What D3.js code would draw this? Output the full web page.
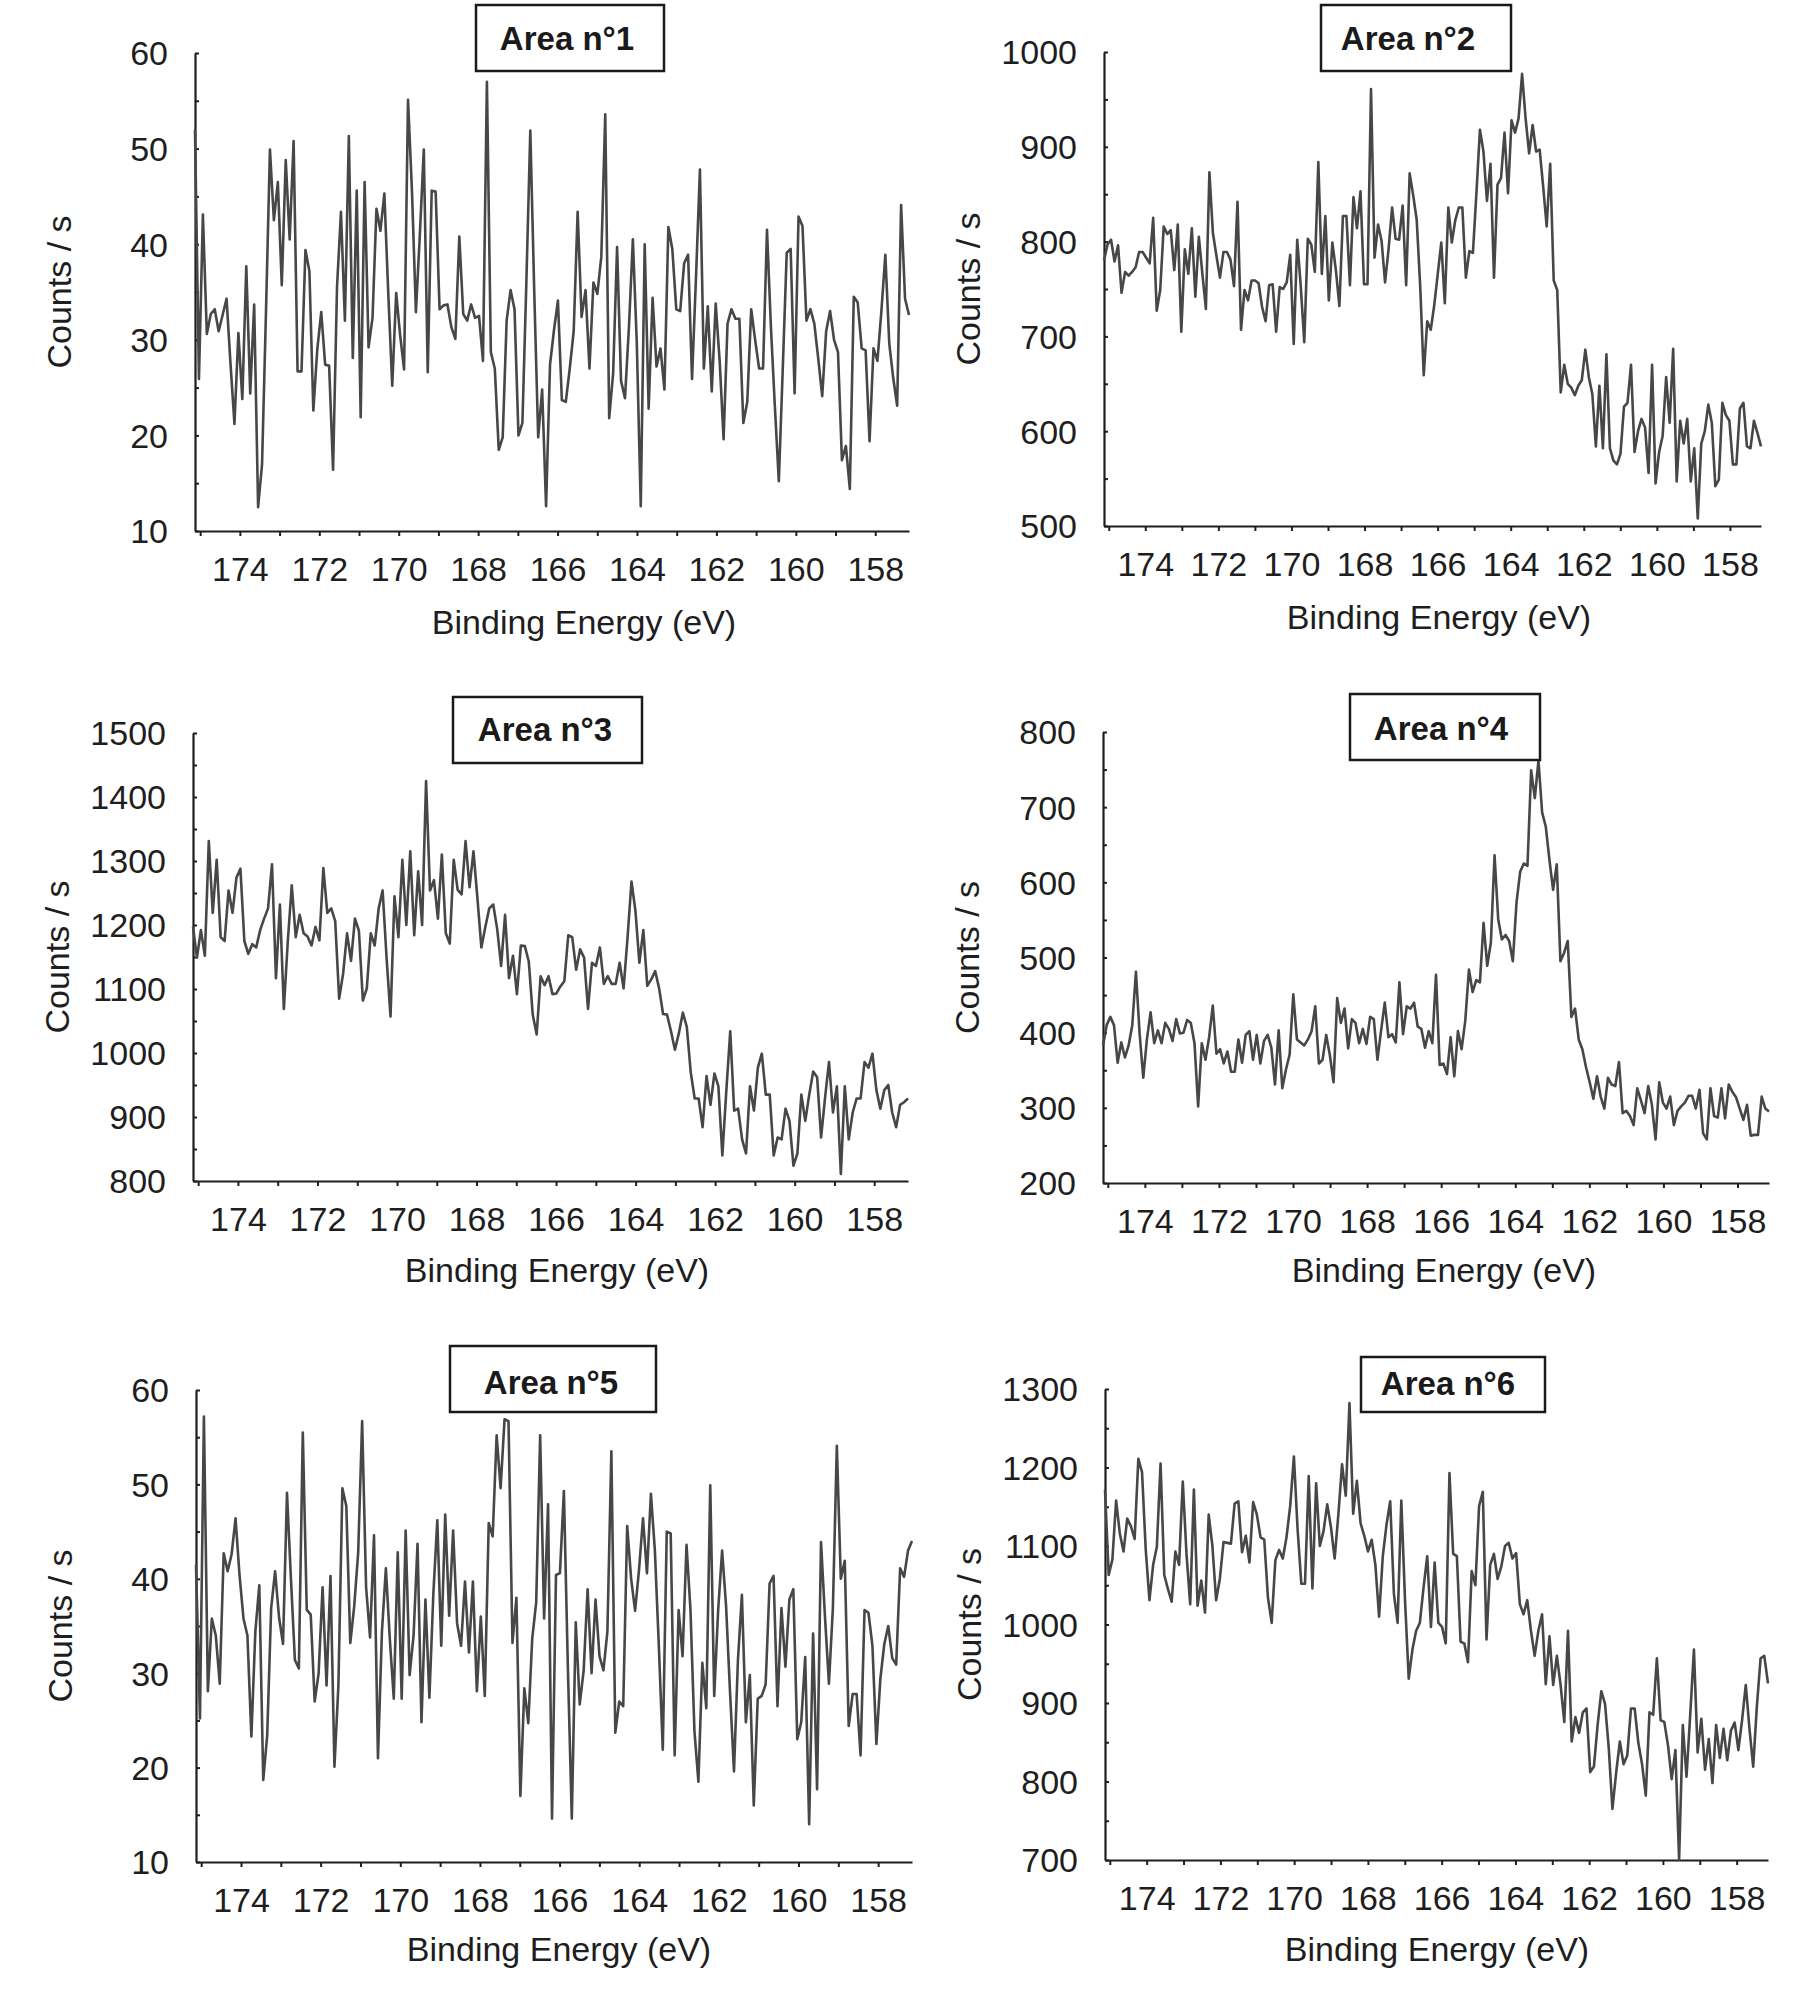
<!DOCTYPE html>
<html>
<head>
<meta charset="utf-8">
<script src="https://cdn.jsdelivr.net/npm/d3@7.9.0/dist/d3.min.js"></script>
<style>
  body { margin: 0; background: #fff; }
  svg { display: block; font-family: "Liberation Sans", Arial, sans-serif; }
</style>
</head>
<body>
<svg id="chart" width="1794" height="1992"></svg>
<script>
// XPS S2p spectra, counts/s, one point every ~0.1 eV from 175.1 eV down to 157.2 eV
const area1 = [52, 25.9, 43.1, 30.6, 32.7, 33.2, 30.9, 32.6, 34.3, 27.5, 21.2, 30.7, 23.8, 37.7, 24.4, 33.7, 12.5, 17, 33, 49.9,
  42.5, 46.5, 35.7, 48.8, 40.5, 50.8, 26.7, 26.7, 39.4, 37.2, 22.6, 29, 32.9, 27.4, 27.3, 16.4, 35.5, 43.4, 32, 51.3,
  28.1, 45.6, 21.9, 46.5, 29.2, 32.3, 43.7, 41.4, 45.3, 34.8, 25.2, 34.9, 30.5, 26.9, 55.1, 45.6, 32.9, 41, 49.9, 26.6,
  45.6, 45.5, 33.2, 33.6, 33.7, 31.3, 30.1, 40.8, 32.7, 32, 33.7, 32.3, 32.5, 27.8, 57,
  28.7, 27, 18.5, 19.8, 32, 35.2, 33.2, 20, 21.3, 36, 51.9, 35, 19.8, 24.8, 12.6, 27.4, 31, 34.1, 23.7, 23.5,
  27, 30.9, 43.4, 32.4, 35.2, 27, 36, 34.8, 38.7, 53.6, 21.8, 26.5, 39.7, 25.7, 23.9, 31.3, 40.5, 29.6, 12.6, 40,
  22.8, 34.4, 27.2, 29.1, 24.8, 41.8, 39.5, 33.2, 33, 38, 38.9, 25.9, 36.5, 47.8, 27, 33.5, 24.6, 33.8, 27.8, 19.6,
  31.7, 33.2, 32.2, 32.2, 21.3, 23.5, 33.2, 30, 27, 27, 41.5, 31.3, 23, 15.2, 27, 39.1, 39.5, 24.4, 42.9, 41.9,
  32, 33.2, 31.7, 28, 24.1, 30.9, 33, 30, 28.7, 17.4, 18.9, 14.4, 34.5, 33.9, 29.1, 28.9, 19.4, 29.1, 27.8, 33,
  38.9, 29.6, 26, 23.1, 44.1, 34.3, 32.6];

const area2 = [780, 797, 802, 779, 796, 746, 768, 764, 768, 773, 789, 789, 783, 777, 825, 727, 749, 816, 808, 812,
  770, 818, 705, 792, 766, 814, 742, 805, 766, 729, 873, 809, 785, 762, 789, 789, 781, 753, 842, 707,
  749, 738, 759, 759, 756, 731, 716, 754, 755, 705, 752, 750, 757, 786, 692, 802, 753, 694, 803, 797,
  768, 884, 766, 827, 738, 799, 770, 732, 827, 827, 754, 847, 814, 853, 755, 755, 961, 783, 818, 801,
  757, 792, 836, 803, 802, 838, 754, 872, 849, 823, 753, 659, 716, 707, 733, 766, 799, 735, 836, 799,
  823, 836, 836, 762, 790, 788, 851, 918, 895, 843, 882, 762, 860, 867, 915, 851, 928, 915, 930, 977,
  930, 893, 923, 895, 897, 858, 816, 882, 759, 749, 641, 670, 650, 646, 638, 648, 654, 686, 657, 639,
  584, 648, 582, 681, 582, 569, 565, 576, 626, 630, 670, 578, 600, 613, 604, 556, 670, 545, 578, 595,
  657, 609, 687, 547, 611, 587, 613, 547, 582, 508, 587, 600, 628, 609, 542, 549, 630, 617, 611, 565,
  565, 624, 630, 584, 582, 611, 598, 584];

const area3 = [1197, 1149, 1192, 1152, 1331, 1219, 1302, 1181, 1175, 1254, 1219, 1274, 1288, 1175, 1155, 1170, 1165, 1192, 1210, 1226,
  1295, 1117, 1232, 1069, 1175, 1262, 1181, 1216, 1187, 1182, 1168, 1197, 1176, 1289, 1219, 1226, 1206, 1085, 1124, 1187,
  1144, 1210, 1191, 1082, 1101, 1187, 1168, 1226, 1254, 1149, 1057, 1245, 1181, 1302, 1200, 1315, 1184, 1284, 1200, 1425,
  1254, 1270, 1210, 1310, 1187, 1171, 1302, 1255, 1248, 1331, 1259, 1315, 1242, 1165, 1197, 1226, 1232, 1194, 1136, 1216,
  1117, 1152, 1092, 1168, 1167, 1143, 1060, 1029, 1120, 1106, 1120, 1092, 1093, 1104, 1112, 1184, 1181, 1130, 1162, 1149,
  1069, 1141, 1136, 1165, 1108, 1120, 1108, 1108, 1141, 1101, 1180, 1268, 1222, 1141, 1192, 1105, 1115, 1128, 1101, 1061,
  1060, 1034, 1005, 1031, 1063, 1041, 970, 929, 929, 884, 964, 919, 968, 948, 840, 940, 1034, 910, 913, 865,
  843, 948, 910, 977, 999, 935, 935, 840, 868, 865, 913, 894, 824, 843, 935, 894, 935, 971, 962, 868,
  930, 986, 907, 948, 811, 948, 865, 907, 929, 929, 986, 977, 999, 942, 913, 942, 950, 907, 884, 919,
  923, 929];

const area4 = [383, 410, 421, 410, 360, 387, 367, 383, 410, 481, 399, 340, 391, 427, 386, 403, 386, 413, 405, 389,
  418, 399, 400, 417, 413, 386, 302, 386, 364, 394, 436, 372, 378, 359, 375, 348, 348, 391, 360, 397,
  402, 364, 397, 359, 389, 397, 380, 331, 403, 326, 351, 371, 451, 391, 387, 383, 391, 402, 435, 359,
  364, 397, 370, 334, 446, 413, 432, 379, 418, 413, 386, 405, 385, 421, 418, 364, 403, 440, 394, 398,
  387, 467, 398, 435, 432, 440, 408, 405, 380, 402, 386, 477, 357, 359, 345, 394, 342, 402, 378, 416,
  484, 454, 470, 467, 546, 489, 520, 636, 551, 524, 530, 522, 495, 573, 614, 625, 622, 749, 712, 762,
  693, 674, 630, 590, 624, 495, 506, 522, 421, 432, 391, 378, 354, 334, 312, 342, 315, 299, 340, 331,
  329, 361, 293, 296, 289, 277, 326, 310, 293, 329, 304, 258, 334, 307, 299, 315, 277, 296, 302, 307,
  316, 316, 299, 324, 266, 258, 326, 289, 287, 326, 286, 331, 321, 314, 299, 284, 304, 263, 264, 264,
  315, 299, 295];

const area5 = [41.5, 25.2, 57.2, 28.1, 35.8, 34, 28.9, 42.7, 40.8, 42.6, 46.4, 40.4, 35.8, 34, 23.3, 34.4, 39.3, 18.7, 23.4, 36.9,
  40.8, 35.9, 33.1, 49.1, 40, 31.4, 30.5, 55.5, 36.7, 36.2, 27, 30, 39.1, 28.7, 40.3, 20.1, 28.7, 49.6, 47.7, 33.2,
  37.1, 42.8, 56.7, 39.1, 33.8, 44.6, 21, 34.4, 41.1, 33.6, 27.3, 42.8, 27.3, 45.1, 29.8, 34, 43.7, 24.8, 37.8, 27.4,
  38.4, 46.2, 32.9, 46.8, 36.1, 45.1, 35.3, 32.9, 39.7, 32.2, 39.7, 28.1, 36, 27.6, 45.9, 44.5, 55.2, 49.6, 56.9, 56.7,
  33.2, 38, 17, 28.4, 24.7, 33.7, 37.5, 55.2, 35.8, 47.9, 14.6, 40.4, 40.6, 49.3, 30.7, 14.6, 35.4, 26.7, 30.3, 38.9,
  30, 37.8, 31.8, 30.3, 34.4, 53.5, 23.7, 27, 26.5, 45.6, 40, 36.6, 41, 46.4, 40.6, 49, 43, 32.9, 21.9, 45,
  44.8, 21.3, 36.7, 31.8, 43.6, 36.7, 23.9, 18.5, 31.1, 26.3, 49.9, 27.6, 36.7, 43, 37.1, 28, 19.6, 31.4, 38.3, 24.8,
  29.8, 16, 27.3, 27.6, 28.8, 39.5, 40.3, 26.5, 36.9, 30.7, 37.8, 38.9, 23, 24.8, 31.7, 14, 34.2, 17.7, 43.9, 36,
  28.9, 36.9, 54.1, 40, 41.9, 24.4, 27.8, 27.8, 21.3, 36.7, 36.4, 32.9, 22.5, 29.4, 33.1, 35, 31.6, 30.9, 41.1, 40.2,
  43, 44];

const area6 = [1172, 1063, 1083, 1158, 1116, 1093, 1135, 1125, 1109, 1211, 1194, 1095, 1031, 1076, 1099, 1205, 1063, 1045, 1029, 1093,
  1076, 1182, 1090, 1026, 1172, 1024, 1056, 1015, 1140, 1100, 1031, 1058, 1105, 1104, 1103, 1154, 1157, 1092, 1113, 1079,
  1156, 1140, 1111, 1108, 1034, 1002, 1082, 1095, 1084, 1111, 1151, 1214, 1121, 1052, 1052, 1189, 1046, 1180, 1100, 1119,
  1153, 1124, 1084, 1140, 1204, 1164, 1282, 1141, 1183, 1129, 1113, 1093, 1108, 1076, 1010, 1087, 1127, 1157, 1039, 1002,
  1158, 1031, 931, 968, 992, 1002, 1047, 1087, 997, 1079, 1002, 997, 976, 1193, 1090, 1087, 978, 976, 952, 1068,
  1050, 1151, 1169, 981, 1076, 1090, 1058, 1074, 1100, 1104, 1084, 1091, 1026, 1013, 1031, 992, 960, 992, 1013, 924,
  985, 923, 960, 923, 876, 992, 851, 882, 862, 888, 893, 812, 819, 872, 915, 899, 843, 765, 811, 851,
  822, 833, 893, 893, 849, 822, 782, 888, 885, 957, 878, 876, 846, 803, 840, 700, 872, 806, 885, 968,
  837, 880, 815, 854, 798, 872, 830, 867, 827, 865, 875, 840, 878, 923, 867, 819, 896, 957, 960, 925];

const titles = ['Area n°1', 'Area n°2', 'Area n°3', 'Area n°4', 'Area n°5', 'Area n°6'];
const series = [area1, area2, area3, area4, area5, area6];
const yDomains = [[10, 60], [500, 1000], [800, 1500], [200, 800], [10, 60], [700, 1300]];
const yMajorSteps = [10, 100, 100, 100, 10, 100];
const energyRange = [175.13, 157.15];
const xTickLabels = [174, 172, 170, 168, 166, 164, 162, 160, 158];

// layout of each panel in the page (pixels)
const layout = [
  { x0: 195, x1: 909, y0: 53, y1: 531, box: [476, 5, 188, 66], titleX: 567, titleY: 50, xLabelX: 584, xLabelY: 634 },
  { x0: 1104, x1: 1761, y0: 52, y1: 526, box: [1321, 5, 190, 66], titleX: 1408, titleY: 50, xLabelX: 1439, xLabelY: 629 },
  { x0: 193, x1: 908, y0: 733, y1: 1181, box: [453, 697, 189, 66], titleX: 545, titleY: 741, xLabelX: 557, xLabelY: 1282 },
  { x0: 1103, x1: 1769, y0: 732, y1: 1183, box: [1350, 694, 190, 66], titleX: 1441, titleY: 740, xLabelX: 1444, xLabelY: 1282 },
  { x0: 196, x1: 912, y0: 1390, y1: 1862, box: [450, 1346, 206, 66], titleX: 551, titleY: 1394, xLabelX: 559, xLabelY: 1961 },
  { x0: 1105, x1: 1768, y0: 1389, y1: 1860, box: [1361, 1357, 184, 55], titleX: 1448, titleY: 1395, xLabelX: 1437, xLabelY: 1961 },
];

const svg = d3.select('#chart');
svg.append('rect').attr('width', 1794).attr('height', 1992).attr('fill', '#fff');

series.forEach((counts, k) => {
  const L = layout[k];
  const g = svg.append('g');

  const x = d3.scaleLinear().domain(energyRange).range([L.x0, L.x1]);
  const y = d3.scaleLinear().domain(yDomains[k]).range([L.y1, L.y0]);
  const energyOf = d3.scaleLinear().domain([0, counts.length - 1]).range(energyRange);

  // y axis, ticks pointing into the plot, minor ticks at half steps
  const step = yMajorSteps[k];
  const [ymin, ymax] = yDomains[k];
  const yAxis = d3.axisLeft(y)
    .tickValues(d3.range(ymin, ymax + step / 4, step / 2))
    .tickSizeInner(-4)
    .tickSizeOuter(0)
    .tickFormat(d => (Math.round((d - ymin) / step * 2) % 2 === 0 ? d : ''));
  const ya = g.append('g').attr('transform', `translate(${L.x0},0)`).call(yAxis);
  ya.select('.domain').attr('stroke', '#1e1e1e').attr('stroke-width', 2.2);
  ya.selectAll('.tick line').attr('stroke', '#1e1e1e').attr('stroke-width', 2);
  ya.selectAll('.tick text')
    .attr('x', -27).attr('dy', '0.35em')
    .attr('font-size', 34).attr('fill', '#1e1e1e');

  // x axis, a tick every 1 eV, labels every 2 eV
  const xAxis = d3.axisBottom(x)
    .tickValues(d3.range(158, 176))
    .tickSizeInner(5)
    .tickSizeOuter(0)
    .tickFormat(d => (xTickLabels.includes(d) ? d : ''));
  const xa = g.append('g').attr('transform', `translate(0,${L.y1})`).call(xAxis);
  xa.select('.domain').attr('stroke', '#1e1e1e').attr('stroke-width', 2.2);
  xa.selectAll('.tick line').attr('stroke', '#1e1e1e').attr('stroke-width', 2);
  xa.selectAll('.tick text')
    .attr('y', 50).attr('dy', 0)
    .attr('font-size', 34).attr('fill', '#1e1e1e');

  // axis titles
  g.append('text')
    .attr('transform', `translate(${L.x0 - 124},${(L.y0 + L.y1) / 2}) rotate(-90)`)
    .attr('text-anchor', 'middle')
    .attr('font-size', 34).attr('fill', '#1e1e1e')
    .text('Counts / s');
  g.append('text')
    .attr('x', L.xLabelX).attr('y', L.xLabelY)
    .attr('text-anchor', 'middle')
    .attr('font-size', 34).attr('fill', '#1e1e1e')
    .text('Binding Energy (eV)');

  // spectrum
  const line = d3.line()
    .x((d, i) => x(energyOf(i)))
    .y(d => y(d));
  g.append('path')
    .datum(counts)
    .attr('d', line)
    .attr('fill', 'none')
    .attr('stroke', '#474747')
    .attr('stroke-width', 2.6)
    .attr('stroke-linejoin', 'round');

  // boxed title
  const [bx, by, bw, bh] = L.box;
  g.append('rect')
    .attr('x', bx).attr('y', by).attr('width', bw).attr('height', bh)
    .attr('fill', '#fff').attr('stroke', '#1a1a1a').attr('stroke-width', 2.5);
  g.append('text')
    .attr('x', L.titleX).attr('y', L.titleY)
    .attr('text-anchor', 'middle')
    .attr('font-size', 33).attr('font-weight', 'bold').attr('fill', '#1a1a1a')
    .text(titles[k]);
});
</script>
</body>
</html>
